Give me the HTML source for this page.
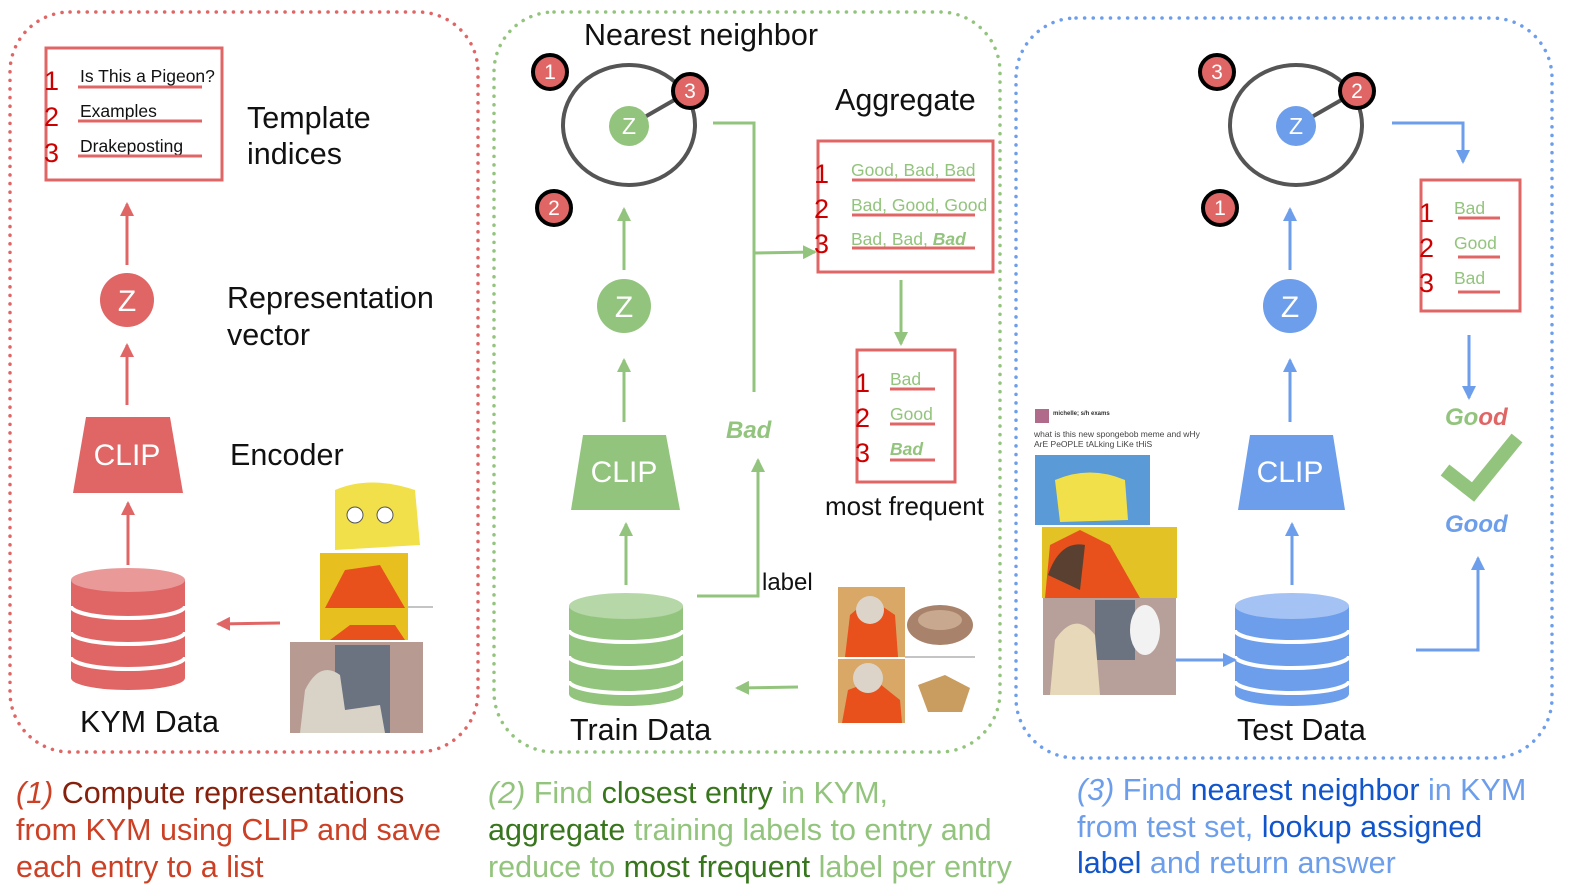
<!DOCTYPE html>
<html><head><meta charset="utf-8"><style>
html,body{margin:0;padding:0;background:#fff;}
svg{display:block;font-family:"Liberation Sans",Arial,sans-serif;}
</style></head><body>
<svg width="1574" height="895" viewBox="0 0 1574 895" xmlns="http://www.w3.org/2000/svg">
<defs>
<marker id="ag" markerWidth="14" markerHeight="14" refX="12" refY="7" orient="auto" markerUnits="userSpaceOnUse"><path d="M0,0 L14,7 L0,14 z" fill="#93c47d"/></marker>
<marker id="ab" markerWidth="14" markerHeight="14" refX="12" refY="7" orient="auto" markerUnits="userSpaceOnUse"><path d="M0,0 L14,7 L0,14 z" fill="#6d9eeb"/></marker>
<marker id="ar2" markerWidth="14" markerHeight="14" refX="12" refY="7" orient="auto" markerUnits="userSpaceOnUse"><path d="M0,0 L14,7 L0,14 z" fill="#e06666"/></marker>
</defs>

<!-- panels -->
<rect x="10" y="12" width="468" height="740" rx="60" fill="none" stroke="#e06666" stroke-width="3.5" stroke-dasharray="0.1 8.5" stroke-linecap="round"/>
<rect x="494" y="12" width="506" height="740" rx="60" fill="none" stroke="#93c47d" stroke-width="3.5" stroke-dasharray="0.1 8.5" stroke-linecap="round"/>
<rect x="1016" y="18" width="536" height="740" rx="60" fill="none" stroke="#6d9eeb" stroke-width="3.5" stroke-dasharray="0.1 8.5" stroke-linecap="round"/>

<!-- ============ PANEL 1 ============ -->
<rect x="46" y="48" width="176" height="132" fill="none" stroke="#e06666" stroke-width="3"/>
<g fill="#cc0000" font-size="27"><text x="44" y="90">1</text><text x="44" y="126">2</text><text x="44" y="162">3</text></g>
<g font-size="17.5" fill="#111"><text x="80" y="82">Is This a Pigeon?</text><text x="80" y="117">Examples</text><text x="80" y="152">Drakeposting</text></g>
<g stroke="#e06666" stroke-width="3"><line x1="78" y1="87" x2="202" y2="87"/><line x1="78" y1="121" x2="202" y2="121"/><line x1="78" y1="156" x2="202" y2="156"/></g>
<text x="247" y="128" font-size="30.5" fill="#111">Template</text>
<text x="247" y="164" font-size="30.5" fill="#111">indices</text>
<line x1="127" y1="265" x2="127" y2="204" stroke="#e06666" stroke-width="3" marker-end="url(#ar2)"/>
<circle cx="127" cy="300" r="27" fill="#e06666"/>
<text x="127" y="311" font-size="30" fill="#fff" text-anchor="middle">Z</text>
<text x="227" y="308" font-size="30.5" fill="#111">Representation</text>
<text x="227" y="345" font-size="30.5" fill="#111">vector</text>
<line x1="127" y1="405" x2="127" y2="345" stroke="#e06666" stroke-width="3" marker-end="url(#ar2)"/>
<polygon points="86,417 170,417 183,493 73,493" fill="#e06666"/>
<text x="127" y="465" font-size="30" fill="#fff" text-anchor="middle">CLIP</text>
<text x="230" y="465" font-size="30.5" fill="#111">Encoder</text>
<line x1="128" y1="565" x2="128" y2="503" stroke="#e06666" stroke-width="3" marker-end="url(#ar2)"/>
<g>
<rect x="71" y="580" width="114" height="98" fill="#e06666"/>
<ellipse cx="128" cy="678" rx="57" ry="12" fill="#e06666"/>
<path d="M71,606 A57,12 0 0 0 185,606 M71,632 A57,12 0 0 0 185,632 M71,657 A57,12 0 0 0 185,657" fill="none" stroke="#fff" stroke-width="4"/>
<ellipse cx="128" cy="580" rx="57" ry="12" fill="#ea9999"/>
</g>
<line x1="280" y1="623" x2="218" y2="624" stroke="#e06666" stroke-width="3" marker-end="url(#ar2)"/>
<path d="M335,490 Q370,475 415,490 L420,545 L335,550 Z" fill="#f1e04a"/>
<circle cx="355" cy="515" r="8" fill="#fff" stroke="#555"/><circle cx="385" cy="515" r="8" fill="#fff" stroke="#555"/>
<rect x="320" y="553" width="88" height="55" fill="#e7c020"/>
<path d="M325,608 L345,570 L380,565 L405,608 Z" fill="#e8501c"/>
<rect x="320" y="608" width="88" height="32" fill="#e7c020"/>
<path d="M330,640 L350,625 L395,625 L405,640 Z" fill="#e8501c"/>
<line x1="408" y1="607" x2="433" y2="607" stroke="#888"/>
<rect x="290" y="642" width="133" height="91" fill="#b79a92"/>
<rect x="335" y="645" width="55" height="88" fill="#6b7280"/>
<path d="M300,733 L305,690 Q320,660 340,675 L345,710 L380,705 L385,733 Z" fill="#d9d2c6"/>
<text x="80" y="732" font-size="30.5" fill="#111">KYM Data</text>

<!-- ============ PANEL 2 ============ -->
<text x="584" y="45" font-size="30.5" fill="#111">Nearest neighbor</text>
<ellipse cx="629" cy="125" rx="66" ry="60" fill="none" stroke="#555" stroke-width="4"/>
<line x1="629" y1="126" x2="690" y2="91" stroke="#555" stroke-width="4"/>
<circle cx="629" cy="126" r="20" fill="#93c47d"/>
<text x="629" y="134" font-size="23" fill="#fff" text-anchor="middle">Z</text>
<g font-size="21" fill="#fff" text-anchor="middle">
<circle cx="550" cy="72" r="17" fill="#e06666" stroke="#000" stroke-width="4"/><text x="550" y="79">1</text>
<circle cx="690" cy="91" r="17" fill="#e06666" stroke="#000" stroke-width="4"/><text x="690" y="98">3</text>
<circle cx="554" cy="208" r="17" fill="#e06666" stroke="#000" stroke-width="4"/><text x="554" y="215">2</text>
</g>
<line x1="624" y1="270" x2="624" y2="209" stroke="#93c47d" stroke-width="3" marker-end="url(#ag)"/>
<circle cx="624" cy="306" r="27" fill="#93c47d"/>
<text x="624" y="317" font-size="30" fill="#fff" text-anchor="middle">Z</text>
<line x1="624" y1="422" x2="624" y2="360" stroke="#93c47d" stroke-width="3" marker-end="url(#ag)"/>
<polygon points="583,435 666,435 680,510 571,510" fill="#93c47d"/>
<text x="624" y="482" font-size="30" fill="#fff" text-anchor="middle">CLIP</text>
<line x1="626" y1="585" x2="626" y2="524" stroke="#93c47d" stroke-width="3" marker-end="url(#ag)"/>
<g>
<rect x="569" y="606" width="114" height="88" fill="#93c47d"/>
<ellipse cx="626" cy="694" rx="57" ry="12" fill="#93c47d"/>
<path d="M569,630 A57,12 0 0 0 683,630 M569,656 A57,12 0 0 0 683,656 M569,681 A57,12 0 0 0 683,681" fill="none" stroke="#fff" stroke-width="4"/>
<ellipse cx="626" cy="606" rx="57" ry="13" fill="#b6d7a8"/>
</g>
<text x="570" y="740" font-size="30.5" fill="#111">Train Data</text>
<polyline points="713,123 754,123 754,392" fill="none" stroke="#93c47d" stroke-width="3"/>
<line x1="754" y1="253" x2="815" y2="252" stroke="#93c47d" stroke-width="3" marker-end="url(#ag)"/>
<text x="726" y="438" font-size="24" font-weight="bold" font-style="italic" fill="#93c47d">Bad</text>
<polyline points="697,596 758,596 758,460" fill="none" stroke="#93c47d" stroke-width="3" marker-end="url(#ag)"/>
<text x="762" y="590" font-size="24" fill="#111">label</text>
<line x1="798" y1="687" x2="737" y2="688" stroke="#93c47d" stroke-width="3" marker-end="url(#ag)"/>
<text x="835" y="110" font-size="30.5" fill="#111">Aggregate</text>
<rect x="818" y="141" width="175" height="131" fill="none" stroke="#e06666" stroke-width="3"/>
<g fill="#cc0000" font-size="27"><text x="814" y="183">1</text><text x="814" y="218">2</text><text x="814" y="253">3</text></g>
<g font-size="17.5" fill="#93c47d"><text x="851" y="176">Good, Bad, Bad</text><text x="851" y="211">Bad, Good, Good</text><text x="851" y="245">Bad, Bad, <tspan font-weight="bold" font-style="italic">Bad</tspan></text></g>
<g stroke="#e06666" stroke-width="3"><line x1="852" y1="180" x2="975" y2="180"/><line x1="852" y1="215" x2="975" y2="215"/><line x1="852" y1="248" x2="975" y2="248"/></g>
<line x1="901" y1="280" x2="901" y2="344" stroke="#93c47d" stroke-width="3" marker-end="url(#ag)"/>
<rect x="857" y="350" width="98" height="132" fill="none" stroke="#e06666" stroke-width="3"/>
<g fill="#cc0000" font-size="27"><text x="855" y="392">1</text><text x="855" y="427">2</text><text x="855" y="462">3</text></g>
<g font-size="17.5" fill="#93c47d"><text x="890" y="385">Bad</text><text x="890" y="420">Good</text><text x="890" y="455" font-weight="bold" font-style="italic">Bad</text></g>
<g stroke="#e06666" stroke-width="3"><line x1="890" y1="389" x2="935" y2="389"/><line x1="890" y1="424" x2="935" y2="424"/><line x1="890" y1="460" x2="935" y2="460"/></g>
<text x="825" y="515" font-size="26" fill="#111">most frequent</text>
<rect x="838" y="587" width="67" height="70" fill="#d9a766"/>
<path d="M845,657 L850,615 L870,598 L895,615 L898,657 Z" fill="#e8501c"/>
<circle cx="870" cy="610" r="14" fill="#dcd4c8"/>
<rect x="838" y="659" width="67" height="64" fill="#d9a766"/>
<path d="M842,723 L848,690 L875,680 L900,700 L902,723 Z" fill="#e8501c"/>
<circle cx="868" cy="678" r="15" fill="#dcd4c8"/>
<ellipse cx="940" cy="625" rx="33" ry="20" fill="#a8826a"/>
<ellipse cx="940" cy="620" rx="22" ry="10" fill="#c8a98f"/>
<line x1="905" y1="657" x2="975" y2="657" stroke="#888"/>
<path d="M918,685 L945,675 L970,688 L962,712 L928,712 Z" fill="#c99c5f"/>

<!-- ============ PANEL 3 ============ -->
<ellipse cx="1296" cy="125" rx="66" ry="60" fill="none" stroke="#555" stroke-width="4"/>
<line x1="1296" y1="126" x2="1357" y2="91" stroke="#555" stroke-width="4"/>
<circle cx="1296" cy="126" r="20" fill="#6d9eeb"/>
<text x="1296" y="134" font-size="23" fill="#fff" text-anchor="middle">Z</text>
<g font-size="21" fill="#fff" text-anchor="middle">
<circle cx="1217" cy="72" r="17" fill="#e06666" stroke="#000" stroke-width="4"/><text x="1217" y="79">3</text>
<circle cx="1357" cy="91" r="17" fill="#e06666" stroke="#000" stroke-width="4"/><text x="1357" y="98">2</text>
<circle cx="1220" cy="208" r="17" fill="#e06666" stroke="#000" stroke-width="4"/><text x="1220" y="215">1</text>
</g>
<polyline points="1392,123 1463,123 1463,162" fill="none" stroke="#6d9eeb" stroke-width="3" marker-end="url(#ab)"/>
<rect x="1421" y="180" width="99" height="131" fill="none" stroke="#e06666" stroke-width="3"/>
<g fill="#cc0000" font-size="27"><text x="1419" y="222">1</text><text x="1419" y="257">2</text><text x="1419" y="292">3</text></g>
<g font-size="17.5" fill="#93c47d"><text x="1454" y="214">Bad</text><text x="1454" y="249">Good</text><text x="1454" y="284">Bad</text></g>
<g stroke="#e06666" stroke-width="3"><line x1="1458" y1="218" x2="1500" y2="218"/><line x1="1458" y1="257" x2="1500" y2="257"/><line x1="1458" y1="292" x2="1500" y2="292"/></g>
<line x1="1469" y1="335" x2="1469" y2="398" stroke="#6d9eeb" stroke-width="3" marker-end="url(#ab)"/>
<text x="1445" y="425" font-size="24" font-weight="bold" font-style="italic" fill="#93c47d">Go<tspan fill="#e06666">od</tspan></text>
<polyline points="1445,470 1473,492 1517,438" fill="none" stroke="#93c47d" stroke-width="14"/>
<text x="1445" y="532" font-size="24" font-weight="bold" font-style="italic" fill="#6d9eeb">Good</text>
<polyline points="1416,650 1478,650 1478,558" fill="none" stroke="#6d9eeb" stroke-width="3" marker-end="url(#ab)"/>
<line x1="1290" y1="270" x2="1290" y2="209" stroke="#6d9eeb" stroke-width="3" marker-end="url(#ab)"/>
<circle cx="1290" cy="306" r="27" fill="#6d9eeb"/>
<text x="1290" y="317" font-size="30" fill="#fff" text-anchor="middle">Z</text>
<line x1="1290" y1="422" x2="1290" y2="360" stroke="#6d9eeb" stroke-width="3" marker-end="url(#ab)"/>
<polygon points="1250,435 1333,435 1345,510 1238,510" fill="#6d9eeb"/>
<text x="1290" y="482" font-size="30" fill="#fff" text-anchor="middle">CLIP</text>
<line x1="1292" y1="585" x2="1292" y2="524" stroke="#6d9eeb" stroke-width="3" marker-end="url(#ab)"/>
<g>
<rect x="1235" y="606" width="114" height="88" fill="#6d9eeb"/>
<ellipse cx="1292" cy="694" rx="57" ry="12" fill="#6d9eeb"/>
<path d="M1235,630 A57,12 0 0 0 1349,630 M1235,656 A57,12 0 0 0 1349,656 M1235,681 A57,12 0 0 0 1349,681" fill="none" stroke="#fff" stroke-width="4"/>
<ellipse cx="1292" cy="606" rx="57" ry="13" fill="#a4c2f4"/>
</g>
<text x="1237" y="740" font-size="30.5" fill="#111">Test Data</text>
<line x1="1173" y1="660" x2="1235" y2="660" stroke="#6d9eeb" stroke-width="3" marker-end="url(#ab)"/>
<rect x="1035" y="409" width="14" height="14" fill="#b06a8a"/>
<text x="1053" y="415" font-size="6" font-weight="bold" fill="#333">michelle; s/h exams</text>
<text x="1034" y="437" font-size="8.5" fill="#444">what is this new spongebob meme and wHy</text>
<text x="1034" y="447" font-size="8.5" fill="#444">ArE PeOPLE tALking LiKe tHiS</text>
<rect x="1035" y="455" width="115" height="70" fill="#5a9ad6"/>
<path d="M1055,480 Q1090,465 1125,480 L1128,520 L1060,522 Z" fill="#f1e04a"/>
<rect x="1042" y="527" width="135" height="71" fill="#e2c224"/>
<path d="M1045,598 L1050,545 L1080,530 L1110,545 L1140,598 Z" fill="#e8501c"/>
<path d="M1048,575 Q1060,540 1085,545 L1080,590 Z" fill="#5a4030"/>
<rect x="1043" y="598" width="133" height="97" fill="#b8a09a"/>
<rect x="1095" y="600" width="40" height="60" fill="#6b7280"/>
<path d="M1050,695 L1055,640 Q1075,610 1095,635 L1100,695 Z" fill="#e6d8b8"/>
<ellipse cx="1145" cy="630" rx="15" ry="25" fill="#f2f2f2"/>

<!-- ============ CAPTIONS ============ -->
<g font-size="30.5">
<text x="16" y="803"><tspan fill="#cc4125" font-style="italic">(1)</tspan><tspan fill="#85200c"> Compute representations</tspan></text>
<text x="16" y="840" fill="#cc4125">from KYM using CLIP and save</text>
<text x="16" y="877" fill="#cc4125">each entry to a list</text>

<text x="488" y="803" fill="#93c47d"><tspan font-style="italic">(2)</tspan> Find <tspan fill="#38761d">closest entry</tspan> in KYM,</text>
<text x="488" y="840" fill="#93c47d"><tspan fill="#38761d">aggregate</tspan> training labels to entry and</text>
<text x="488" y="877" fill="#93c47d">reduce to <tspan fill="#38761d">most frequent</tspan> label per entry</text>

<text x="1077" y="800" fill="#6d9eeb"><tspan font-style="italic">(3)</tspan> Find <tspan fill="#1155cc">nearest neighbor</tspan> in KYM</text>
<text x="1077" y="837" fill="#6d9eeb">from test set, <tspan fill="#1155cc">lookup assigned</tspan></text>
<text x="1077" y="873" fill="#6d9eeb"><tspan fill="#1155cc">label</tspan> and return answer</text>
</g>
</svg>
</body></html>
